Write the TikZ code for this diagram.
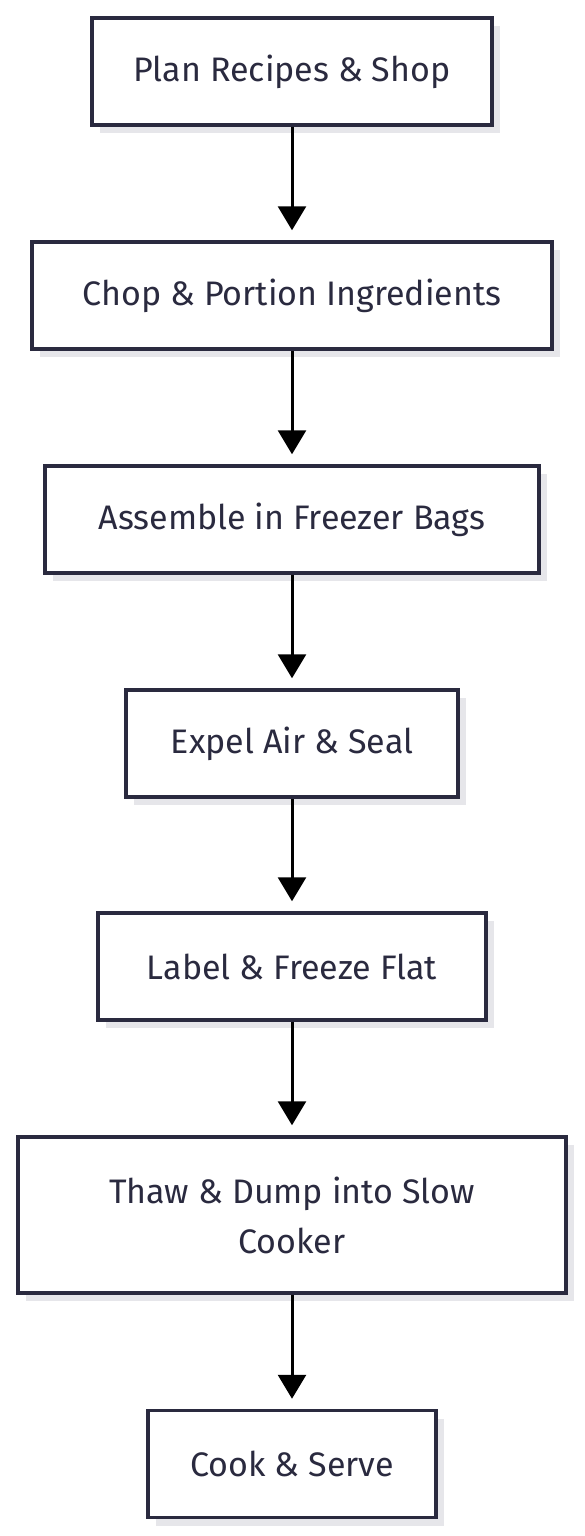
\documentclass[tikz,border=0pt]{standalone}
\usepackage{fontspec}
\setmainfont{Fira Sans}
\usetikzlibrary{arrows.meta,shadows}
\definecolor{ink}{HTML}{2A2A3F}
\definecolor{shade}{HTML}{E6E6EA}
\begin{document}
\begin{tikzpicture}[x=1pt, y=1pt,
        main/.style = {draw=ink, line width=3.5pt, fill=white, text=ink,
            minimum height=107pt, align=center,
            font=\fontsize{34}{50}\selectfont,
            drop shadow={shadow xshift=8pt, shadow yshift=-8pt, fill=shade, opacity=1}},
        flow/.style = {line width=3pt, -{Triangle[width=28pt, length=24pt]}}]

    \useasboundingbox (0,0) rectangle (584,-1536);

    \node[main, minimum width=400pt] (1) at (292,-71.5) {Plan Recipes \& Shop};
    \node[main, minimum width=520pt] (2) [below of=1, node distance=224pt] {Chop \& Portion Ingredients};
    \node[main, minimum width=494pt] (3) [below of=2, node distance=224pt] {Assemble in Freezer Bags};
    \node[main, minimum width=332pt] (4) [below of=3, node distance=224pt] {Expel Air \& Seal};
    \node[main, minimum width=388pt] (5) [below of=4, node distance=223pt] {Label \& Freeze Flat};
    \node[main, minimum width=548pt, minimum height=156pt] (6) [below of=5, node distance=248.5pt] {Thaw \& Dump into Slow\\Cooker};
    \node[main, minimum width=288pt] (7) [below of=6, node distance=249pt] {Cook \& Serve};

    \draw[flow] (1) -- ([yshift=10pt]2.north);
    \draw[flow] (2) -- ([yshift=10pt]3.north);
    \draw[flow] (3) -- ([yshift=10pt]4.north);
    \draw[flow] (4) -- ([yshift=10pt]5.north);
    \draw[flow] (5) -- ([yshift=10pt]6.north);
    \draw[flow] (6) -- ([yshift=10pt]7.north);

\end{tikzpicture}
\end{document}
